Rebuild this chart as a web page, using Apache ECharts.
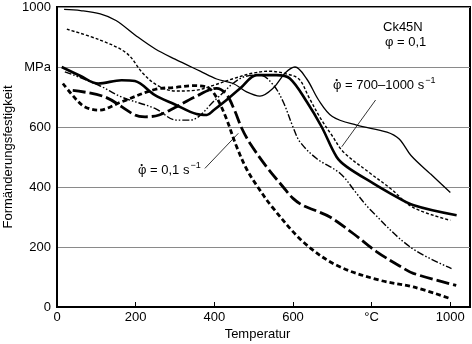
<!DOCTYPE html>
<html>
<head>
<meta charset="utf-8">
<script src="https://cdn.jsdelivr.net/npm/echarts@6/dist/echarts.min.js"></script>
<style>
  html, body { margin: 0; padding: 0; background: #fff; }
  #chart { width: 472px; height: 344px; }
</style>
</head>
<body>
<div id="chart"></div>
<script>
// temperatures (°C) and flow stress (MPa) per curve
const tempThinSolid = [18, 60, 110, 150, 200, 250, 300, 364, 406, 448, 482, 516, 550, 580, 605, 635, 665, 700, 762, 839, 870, 900, 950, 1000];
const stressThinSolid = [992, 988, 977, 955, 905, 860, 826, 786, 760, 745, 717, 703, 730, 780, 800, 760, 690, 635, 606, 583, 560, 505, 443, 382];

const tempThinDotted = [25, 109, 177, 219, 254, 300, 350, 400, 450, 500, 540, 580, 615, 640, 670, 700, 728, 797, 847, 905, 1000];
const stressThinDotted = [926, 890, 846, 778, 740, 720, 722, 740, 762, 780, 786, 778, 760, 700, 629, 570, 517, 445, 396, 332, 289];

const tempThickSolid = [12, 60, 105, 164, 198, 249, 300, 355, 381, 398, 431, 466, 508, 558, 592, 635, 673, 711, 737, 804, 847, 905, 1016];
const stressThickSolid = [800, 770, 745, 756, 753, 706, 675, 643, 640, 656, 690, 729, 773, 773, 762, 684, 600, 500, 467, 412, 379, 340, 306];

const tempDashDot = [20, 105, 164, 249, 304, 338, 406, 466, 516, 550, 575, 600, 618, 660, 720, 762, 796, 898, 1003];
const stressDashDot = [784, 740, 700, 662, 623, 623, 695, 762, 773, 740, 684, 600, 550, 495, 445, 378, 325, 200, 128];

const tempLongDash = [40, 122, 198, 224, 260, 300, 350, 406, 430, 450, 470, 491, 533, 575, 600, 626, 660, 694, 753, 813, 881, 906, 1015];
const stressLongDash = [722, 700, 640, 634, 640, 665, 700, 729, 710, 660, 595, 545, 467, 400, 362, 338, 320, 300, 245, 184, 129, 112, 72];

const tempShortDash = [15, 50, 71, 105, 164, 249, 300, 350, 385, 405, 430, 455, 482, 508, 546, 626, 711, 821, 906, 1000];
const stressShortDash = [745, 690, 667, 656, 684, 725, 732, 738, 730, 700, 630, 540, 460, 405, 335, 217, 139, 89, 67, 28];

// leader lines from the rate labels to the curves
const leaderSlowT = [376, 461];
const leaderSlowS = [462, 579];
const leaderFastT = [810, 724];
const leaderFastS = [690, 534];

const xTicks = [0, 200, 400, 600, 800, 1000];
const yTicks = [0, 200, 400, 600, 800, 1000];

const pairs = (xs, ys) => xs.map((x, i) => [x, ys[i]]);
const FONT = "Liberation Sans";

function curve(name, xs, ys, width, type) {
  return {
    name,
    type: "line",
    data: pairs(xs, ys),
    smooth: 0.35,
    showSymbol: false,
    silent: true,
    lineStyle: { color: "#000", width, type, cap: "butt" },
  };
}

// phi-dot label: rich text with superscript, plus a dot drawn over the phi
function rateLabel(left, top, body) {
  return [
    {
      type: "text", left, top,
      style: {
        text: `{m|φ = ${body} s}{sup|−1}`,
        rich: {
          m: { fontFamily: FONT, fontSize: 13, color: "#000", lineHeight: 16, verticalAlign: "bottom" },
          sup: { fontFamily: FONT, fontSize: 9, color: "#000", lineHeight: 16, verticalAlign: "top", padding: [0, 0, 0, 1] },
        },
      },
    },
    { type: "circle", left: left + 2.6, top: top + 3, shape: { r: 1.1 }, style: { fill: "#000" } },
  ];
}

const chart = echarts.init(document.getElementById("chart"));
chart.setOption({
  animation: false,
  grid: {
    left: 57, right: 2, top: 7, bottom: 37,
    outerBoundsMode: "none",
    containLabel: false,
    show: true, borderColor: "#000", borderWidth: 2,
  },
  xAxis: {
    type: "value",
    min: 0,
    max: 1050,
    interval: 200,
    name: "Temperatur",
    nameLocation: "middle",
    nameGap: 21,
    nameMoveOverlap: false,
    nameTextStyle: { fontFamily: FONT, fontSize: 13, color: "#000", padding: [0, 12, 0, 0] },
    axisLine: { lineStyle: { color: "#000", width: 2 } },
    axisTick: { show: true, inside: true, length: 5, customValues: [200, 400, 600, 800, 1000], lineStyle: { color: "#000", width: 1 } },
    axisLabel: {
      customValues: xTicks,
      margin: 4,
      fontFamily: FONT, fontSize: 13, color: "#000",
      formatter: (v) => (v === 800 ? "°C" : String(v)),
    },
    splitLine: { show: false },
  },
  yAxis: {
    type: "value",
    min: 0,
    max: 1000,
    interval: 200,
    name: "Formänderungsfestigkeit",
    nameLocation: "middle",
    nameGap: 42,
    nameMoveOverlap: false,
    nameTextStyle: { fontFamily: FONT, fontSize: 13, color: "#000" },
    axisLine: { show: true, lineStyle: { color: "#000", width: 2 } },
    axisTick: { show: false },
    axisLabel: {
      customValues: yTicks,
      margin: 6,
      fontFamily: FONT, fontSize: 13, color: "#000",
      formatter: (v) => (v === 800 ? "MPa" : String(v)),
    },
    splitLine: { show: true, lineStyle: { color: "#8a8a8a", width: 1 } },
  },
  series: [
    curve("thinSolid", tempThinSolid, stressThinSolid, 1.3, "solid"),
    curve("thinDotted", tempThinDotted, stressThinDotted, 1.4, [3, 2]),
    curve("thickSolid", tempThickSolid, stressThickSolid, 2.6, "solid"),
    curve("dashDot", tempDashDot, stressDashDot, 1.4, [7, 2, 1.5, 2, 1.5, 2]),
    curve("longDash", tempLongDash, stressLongDash, 2.8, [13, 4]),
    curve("shortDash", tempShortDash, stressShortDash, 2.8, [5, 3]),
    {
      type: "line", silent: true, showSymbol: false,
      data: pairs(leaderSlowT, leaderSlowS),
      lineStyle: { color: "#000", width: 0.8 },
    },
    {
      type: "line", silent: true, showSymbol: false,
      data: pairs(leaderFastT, leaderFastS),
      lineStyle: { color: "#000", width: 0.8 },
    },
  ],
  graphic: [
    { type: "text", left: 383, top: 21, style: { text: "Ck45N", font: `13px "${FONT}"`, fill: "#000" } },
    { type: "text", left: 385, top: 36, style: { text: "φ = 0,1", font: `13px "${FONT}"`, fill: "#000" } },
    ...rateLabel(333, 76, "700–1000"),
    ...rateLabel(138, 161, "0,1"),
  ],
});
</script>
</body>
</html>
